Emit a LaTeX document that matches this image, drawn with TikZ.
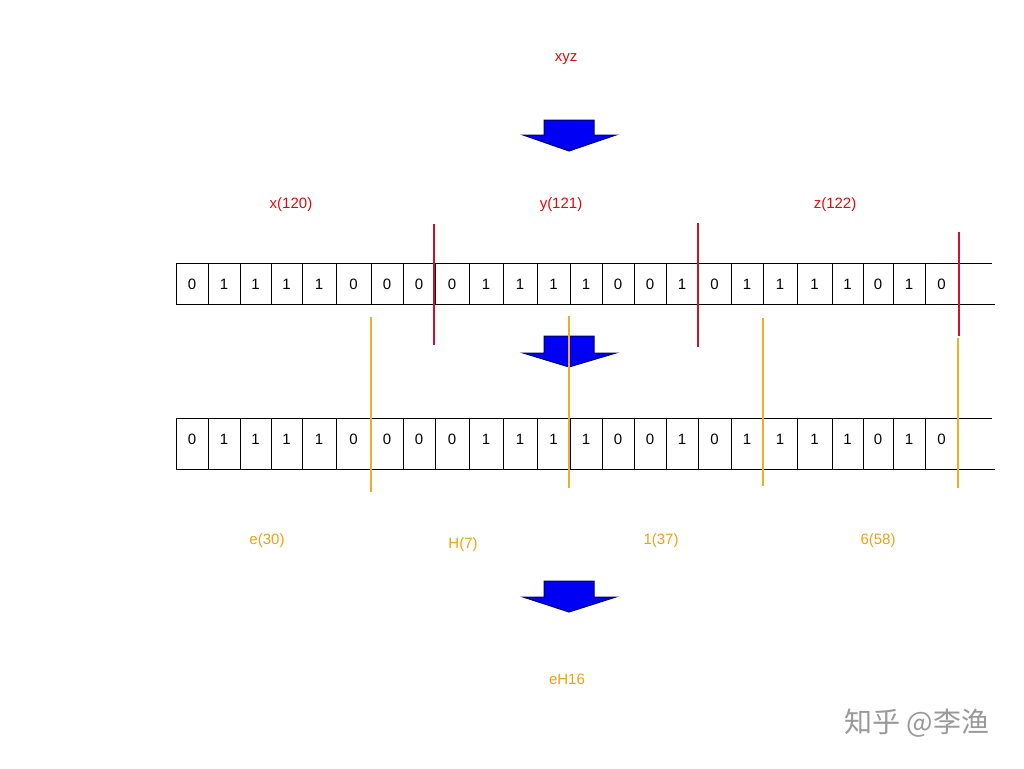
\documentclass[tikz,border=0pt]{standalone}
\usepackage{fontspec}
\setmainfont{Liberation Sans}
\newfontfamily\cjk{Noto Sans CJK SC}
\definecolor{tred}{RGB}{225,10,10}
\definecolor{torg}{RGB}{240,160,20}
\definecolor{lred}{RGB}{200,20,50}
\definecolor{lyel}{RGB}{235,175,40}
\definecolor{ablue}{RGB}{0,0,245}
\begin{document}
\begin{tikzpicture}[x=1pt,y=-1pt,
  rt/.style={text=tred,font=\fontsize{15}{17}\selectfont},
  ot/.style={text=torg,font=\fontsize{15}{17}\selectfont},
  dg/.style={font=\fontsize{15}{17}\selectfont},
  rl/.style={draw=lred,line width=1.15pt},
  yl/.style={draw=lyel,line width=1.15pt},
  bigarrow/.style={fill=ablue,draw=black!60!blue,line width=1pt}]
\useasboundingbox (0,0) rectangle (1024,768);
\node[rt] (xyz) at (566,59) {xyz};
\node[rt] (lx) at (291,205) {x(120)};
\node[rt] (ly) at (561,205) {y(121)};
\node[rt] (lz) at (835,205) {z(122)};
\def\arr#1#2#3{\draw[bigarrow] (544,#1) -- (594,#1) -- (594,#2) -- (616,#2) -- (569,#3) -- (523,#2) -- (544,#2) -- cycle;}
\arr{120}{135}{151}
\arr{336}{353}{367}
\arr{581}{597}{612}
\def\bnd{176,208,240,271,302,336,371,403,435,469,503,537,570,602,634,666,698,731,763,797,832,863,893,925}
\def\digs{0,1,1,1,1,0,0,0,0,1,1,1,1,0,0,1,0,1,1,1,1,0,1,0}
\foreach \t/\b in {263/304,418/469}{
  \draw (176,\t) -- (992,\t);
  \draw (176,\b) -- (995,\b);
  \foreach \x in \bnd {\draw (\x,\t) -- (\x,\b);}
}
\foreach \d [count=\i] in \digs {
  \pgfmathsetmacro{\xa}{{\bnd,958}[\i-1]}
  \pgfmathsetmacro{\xb}{{\bnd,958}[\i]}
  \node[dg,inner sep=0] (a\i) at ({(\xa+\xb)/2},284) {\d};
  \node[dg,inner sep=0] (b\i) at ({(\xa+\xb)/2},439) {\d};
}
\draw[rl] (434,224) -- (434,345);
\draw[rl] (698,223) -- (698,347);
\draw[rl] (959,232) -- (959,336);
\draw[yl] (371,317) -- (371,492);
\draw[yl] (569,316) -- (569,488);
\draw[yl] (763,318) -- (763,486);
\draw[yl] (958,338) -- (958,488);
\node[ot] (le) at (267,541) {e(30)};
\node[ot] (lh) at (463,545) {H(7)};
\node[ot] (l1) at (661,541) {1(37)};
\node[ot] (l6) at (878,541) {6(58)};
\node[ot] (res) at (567,679) {eH16};
\node[text=black!40,font=\cjk\fontsize{28}{32}\selectfont] (wm) at (917,723) {知乎 @李渔};
\end{tikzpicture}
\end{document}
